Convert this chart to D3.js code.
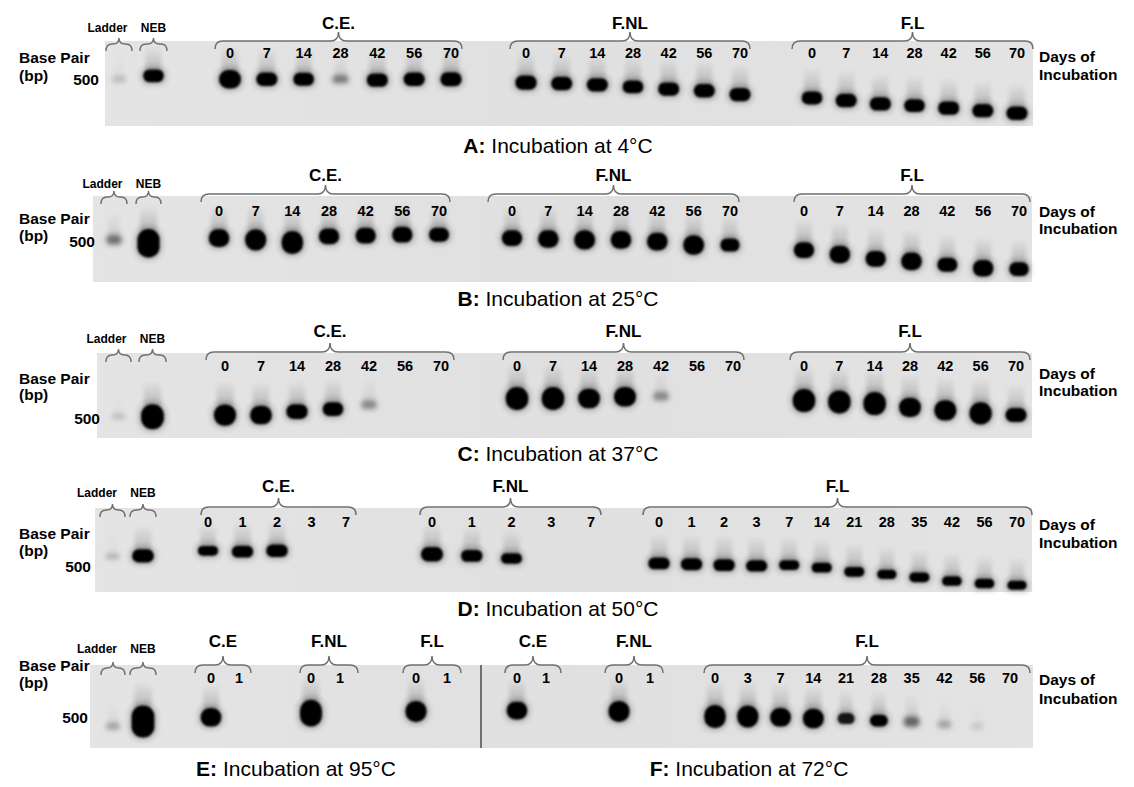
<!DOCTYPE html>
<html><head><meta charset="utf-8">
<script src="https://cdn.jsdelivr.net/npm/d3@7"></script>
<style>
html,body{margin:0;padding:0;background:#fff;}
svg{display:block;font-family:Arial,"Liberation Sans",sans-serif;}
</style></head><body>
<svg id="chart" width="1134" height="787"></svg>
<script>
// ---------------- DATA ----------------
const panelLetters = ["A:", "B:", "C:", "D:", "E:", "F:"];
const panelTitles = ["Incubation at 4°C", "Incubation at 25°C", "Incubation at 37°C",
                     "Incubation at 50°C", "Incubation at 95°C", "Incubation at 72°C"];
const ctrlNames = ["Ladder", "NEB"];
const groupNames = ["C.E.", "F.NL", "F.L"];
const groupNamesEF = ["C.E", "F.NL", "F.L"];
const yLabel = ["Base Pair", "(bp)"];
const yTick = "500";
const xLabel = ["Days of", "Incubation"];

const days7 = ["0", "7", "14", "28", "42", "56", "70"];
const daysD5 = ["0", "1", "2", "3", "7"];
const daysD12 = ["0", "1", "2", "3", "7", "14", "21", "28", "35", "42", "56", "70"];
const days2 = ["0", "1"];
const daysF10 = ["0", "3", "7", "14", "21", "28", "35", "42", "56", "70"];

// band migration (% of gel height from the wells) and relative DNA amount per lane
const migA_ctrl = [45, 41];        const amtA_ctrl = [0.12, 0.95];
const migA_CE  = [45, 45, 45, 45, 46, 45, 45];
const amtA_CE  = [1.3, 1.0, 0.95, 0.35, 1.0, 1.0, 1.05];
const migA_FNL = [49, 50, 51.5, 54, 56.5, 58.5, 63];
const amtA_FNL = [1.05, 1.0, 1.0, 0.95, 1.0, 1.0, 1.0];
const migA_FL  = [67, 70, 74, 76, 79, 82, 85];
const amtA_FL  = [0.95, 1.0, 1.0, 0.95, 1.0, 1.0, 1.0];

const migB_ctrl = [51, 55];        const amtB_ctrl = [0.4, 1.8];
const migB_CE  = [49, 51, 54, 47, 46, 45, 45];
const amtB_CE  = [1.2, 1.4, 1.5, 1.1, 1.1, 1.1, 1.0];
const migB_FNL = [49, 50, 51, 51, 53, 57, 57];
const amtB_FNL = [1.1, 1.2, 1.3, 1.2, 1.2, 1.3, 0.9];
const migB_FL  = [63, 68, 73, 76, 80, 84, 85];
const amtB_FL  = [1.1, 1.2, 1.1, 1.2, 1.0, 1.15, 0.95];

const migC_ctrl = [75, 75];        const amtC_ctrl = [0.1, 1.6];
const migC_CE  = [73, 73, 69, 66, 61, 0, 0];
const amtC_CE  = [1.4, 1.25, 1.05, 0.95, 0.3, 0, 0];
const migC_FNL = [53.5, 53.5, 53.5, 51.5, 51, 0, 0];
const amtC_FNL = [1.5, 1.5, 1.3, 1.3, 0.3, 0, 0];
const migC_FL  = [56, 57.5, 59.5, 64, 67.5, 71, 73];
const amtC_FL  = [1.5, 1.5, 1.5, 1.3, 1.35, 1.45, 1.0];

const migD_ctrl = [58, 57];        const amtD_ctrl = [0.15, 1.2];
const migD_CE  = [51, 52, 51, 0, 0];
const amtD_CE  = [0.9, 1.1, 1.15, 0, 0];
const migD_FNL = [55, 57, 60, 0, 0];
const amtD_FNL = [1.3, 1.1, 1.0, 0, 0];
const migD_FL  = [66, 67, 68, 69, 68, 71, 76, 79, 82.5, 87, 90, 92];
const amtD_FL  = [1.1, 1.1, 1.1, 1.05, 0.9, 0.9, 0.9, 0.8, 0.9, 0.85, 0.85, 0.8];

const migE_ctrl = [74, 68];        const amtE_ctrl = [0.2, 2.0];
const migE_CE  = [63, 0];          const amtE_CE  = [1.25, 0];
const migE_FNL = [58, 0];          const amtE_FNL = [1.7, 0];
const migE_FL  = [56, 0];          const amtE_FL  = [1.4, 0];
const migF_CE  = [55, 0];          const amtF_CE  = [1.2, 0];
const migF_FNL = [56, 0];          const amtF_FNL = [1.4, 0];
const migF_FL  = [62, 62, 63, 64.5, 64.5, 67, 68.5, 71.7, 74, 76];
const amtF_FL  = [1.5, 1.45, 1.25, 1.3, 0.65, 0.75, 0.45, 0.2, 0.08, 0];

// ---------------- LAYOUT ----------------
const layout = [
  { gel: [105, 1033, 41, 126], hF: 0.95, wF: 1.0, ladBr: [106, 132], nebBr: [140, 167],
    ctrl: [migA_ctrl, amtA_ctrl], labelY: 23, ctrlY: 28, braceY: 41, numY: 53,
    bpY: [57, 75, 79], tickX: 99, daysY: [56, 74], titles: [[0, 558, 145]], names: groupNames,
    groups: [[215, 462, 15, 11, days7, migA_CE, amtA_CE], [510, 750, 16, 10, days7, migA_FNL, amtA_FNL],
             [792, 1033, 20, 16, days7, migA_FL, amtA_FL]] },
  { gel: [93, 1032, 196, 282], hF: 1.0, wF: 0.95, ladBr: [101, 127], nebBr: [136, 161],
    ctrl: [migB_ctrl, amtB_ctrl], labelY: 175, ctrlY: 184, braceY: 194, numY: 211,
    bpY: [218, 235, 241], tickX: 95, daysY: [211, 228], titles: [[1, 558, 298]], names: groupNames,
    groups: [[201, 450, 18, 11, days7, migB_CE, amtB_CE], [488, 739, 24, 9, days7, migB_FNL, amtB_FNL],
             [794, 1030, 10, 11, days7, migB_FL, amtB_FL]] },
  { gel: [97, 1032, 353, 438], hF: 1.0, wF: 1.0, ladBr: [106, 131], nebBr: [139, 166],
    ctrl: [migC_ctrl, amtC_ctrl], labelY: 331, ctrlY: 339, braceY: 352, numY: 366,
    bpY: [378, 394, 418], tickX: 100, daysY: [373, 390], titles: [[2, 558, 453]], names: groupNames,
    groups: [[206, 454, 19, 13, days7, migC_CE, amtC_CE], [503, 744, 14, 11, days7, migC_FNL, amtC_FNL],
             [790, 1030, 14, 14, days7, migC_FL, amtC_FL]] },
  { gel: [95, 1032, 508, 592], hF: 0.75, wF: 1.0, ladBr: [100, 125], nebBr: [130, 156],
    ctrl: [migD_ctrl, amtD_ctrl], labelY: 486, ctrlY: 493, braceY: 507, numY: 522,
    bpY: [533, 550, 566], tickX: 91, daysY: [524, 542], titles: [[3, 558, 608]], names: groupNames,
    groups: [[201, 356, 7, 10, daysD5, migD_CE, amtD_CE], [420, 601, 12, 10, daysD5, migD_FNL, amtD_FNL],
             [643, 1032, 16, 15, daysD12, migD_FL, amtD_FL]] },
  { gel: [90, 1033, 665, 748], hF: 1.0, wF: 0.95, ladBr: [101, 125], nebBr: [130, 156],
    ctrl: [migE_ctrl, amtE_ctrl], labelY: 641, ctrlY: 649, braceY: 665, numY: 678,
    bpY: [665, 682, 717], tickX: 88, daysY: [679, 698], titles: [[4, 296, 768], [5, 749, 768]],
    names: groupNamesEF, divider: 481,
    groups: [[195, 251, 16, 12, days2, migE_CE, amtE_CE], [300, 358, 11, 18, days2, migE_FNL, amtE_FNL],
             [403, 461, 13, 14, days2, migE_FL, amtE_FL], [505, 561, 12, 15, days2, migF_CE, amtF_CE],
             [605, 663, 14, 13, days2, migF_FNL, amtF_FNL], [704, 1030, 11, 20, daysF10, migF_FL, amtF_FL]] }
];

// ---------------- DRAW ----------------
const svg = d3.select("#chart");
const defs = svg.append("defs");
[["b1", 1.0], ["b2", 2.2], ["b3", 3.2]].forEach(([id, s]) => {
  defs.append("filter").attr("id", id).attr("x", "-60%").attr("y", "-60%").attr("width", "220%").attr("height", "220%")
    .append("feGaussianBlur").attr("stdDeviation", s);
});
const sg = defs.append("linearGradient").attr("id", "smear").attr("x1", 0).attr("x2", 0).attr("y1", 0).attr("y2", 1);
sg.append("stop").attr("offset", "0%").attr("stop-color", "#000").attr("stop-opacity", 0);
sg.append("stop").attr("offset", "100%").attr("stop-color", "#000").attr("stop-opacity", 0.28);

const bandW = d3.scaleLinear().domain([0, 1, 2]).range([12, 21, 24]).clamp(true);
const bandH = d3.scaleLinear().domain([0, 1, 2]).range([5, 14, 32]).clamp(true);
const dark = d3.scaleLinear().domain([0, 0.75]).range([0, 1]).clamp(true);

function bracePath(x0, x1, y, up, down, r) {
  const m = (x0 + x1) / 2;
  return `M${x0},${y + down} Q${x0},${y} ${x0 + r},${y} L${m - r},${y} Q${m},${y} ${m},${y - up}` +
         ` Q${m},${y} ${m + r},${y} L${x1 - r},${y} Q${x1},${y} ${x1},${y + down}`;
}

function drawBand(g, cx, cy, a, P) {
  if (!a) return;
  const w = bandW(a) * P.wF, h = bandH(a) * P.hF, d = dark(a);
  // smear above the band
  g.append("rect").attr("x", cx - w * 0.38).attr("width", w * 0.76)
    .attr("y", cy - h / 2 - 24).attr("height", 26)
    .attr("fill", "url(#smear)").attr("opacity", d * 0.7).attr("filter", "url(#b2)");
  // halo
  g.append("rect").attr("x", cx - w / 2 - 1.5).attr("y", cy - h / 2 - 1.5)
    .attr("width", w + 3).attr("height", h + 3).attr("rx", Math.min(w, h) / 2)
    .attr("fill", "#000").attr("opacity", d * 0.3).attr("filter", "url(#b3)");
  // core
  g.append("rect").attr("x", cx - w / 2).attr("y", cy - h / 2)
    .attr("width", w).attr("height", h).attr("rx", Math.min(w * 0.48, h * 0.48))
    .attr("fill", "#030303").attr("opacity", a < 0.5 ? d * 0.75 : d)
    .attr("filter", a < 0.5 ? "url(#b2)" : "url(#b1)");
}

layout.forEach(P => {
  const [gx0, gx1, gy0, gy1] = P.gel;
  const g = svg.append("g");
  const y = d3.scaleLinear().domain([0, 100]).range([gy0, gy1]);

  // gel background
  const gg = defs.append("linearGradient").attr("id", "gel" + gy0).attr("x1", 0).attr("x2", 1);
  gg.append("stop").attr("offset", "0%").attr("stop-color", "#e4e4e4");
  gg.append("stop").attr("offset", "50%").attr("stop-color", "#e0e0e0");
  gg.append("stop").attr("offset", "100%").attr("stop-color", "#e3e3e3");
  g.append("rect").attr("x", gx0).attr("y", gy0).attr("width", gx1 - gx0).attr("height", gy1 - gy0)
    .attr("fill", `url(#gel${gy0})`);
  if (P.divider) {
    g.append("line").attr("x1", P.divider).attr("x2", P.divider).attr("y1", gy0).attr("y2", gy1)
      .attr("stroke", "#555").attr("stroke-width", 1.6);
  }

  // control lanes (Ladder, NEB)
  const ctrlX = [(P.ladBr[0] + P.ladBr[1]) / 2, (P.nebBr[0] + P.nebBr[1]) / 2];
  [P.ladBr, P.nebBr].forEach(br => {
    g.append("path").attr("d", bracePath(br[0], br[1], P.braceY + 3, 6, 7, 6))
      .attr("fill", "none").attr("stroke", "#6f6f6f").attr("stroke-width", 1.4);
  });
  ctrlX.forEach((cx, i) => drawBand(g, cx, y(P.ctrl[0][i]), P.ctrl[1][i], P));
  g.append("text").attr("x", ctrlX[1]).attr("y", P.ctrlY).attr("text-anchor", "middle")
    .attr("dominant-baseline", "central").attr("font-size", 12).attr("font-weight", "bold").text(ctrlNames[1]);
  g.append("text").attr("x", ctrlX[1] - 26).attr("y", P.ctrlY).attr("text-anchor", "end")
    .attr("dominant-baseline", "central").attr("font-size", 12).attr("font-weight", "bold").text(ctrlNames[0]);

  // sample groups
  P.groups.forEach((G, gi) => {
    const [bx0, bx1, pl, pr, days, mig, amt] = G;
    const x = d3.scalePoint().domain(days).range([bx0 + pl, bx1 - pr]);
    g.append("path").attr("d", bracePath(bx0, bx1, P.braceY, 9, 8, 8))
      .attr("fill", "none").attr("stroke", "#6f6f6f").attr("stroke-width", 1.5);
    g.append("text").attr("x", (bx0 + bx1) / 2).attr("y", P.labelY).attr("text-anchor", "middle")
      .attr("dominant-baseline", "central").attr("font-size", 17).attr("font-weight", "bold")
      .text(P.names[gi % 3]);
    g.selectAll(null).data(days).enter().append("text")
      .attr("x", d => x(d)).attr("y", P.numY).attr("text-anchor", "middle")
      .attr("dominant-baseline", "central").attr("font-size", 14.5).attr("font-weight", "bold").text(d => d);
    days.forEach((d, i) => drawBand(g, x(d), y(mig[i]), amt[i], P));
  });

  // y label
  g.append("text").attr("x", 19).attr("y", P.bpY[0]).attr("dominant-baseline", "central")
    .attr("font-size", 15.5).attr("font-weight", "bold").text(yLabel[0]);
  g.append("text").attr("x", 19).attr("y", P.bpY[1]).attr("dominant-baseline", "central")
    .attr("font-size", 15.5).attr("font-weight", "bold").text(yLabel[1]);
  g.append("text").attr("x", P.tickX).attr("y", P.bpY[2]).attr("text-anchor", "end").attr("dominant-baseline", "central")
    .attr("font-size", 15.5).attr("font-weight", "bold").text(yTick);
  // x label
  xLabel.forEach((t, i) => g.append("text").attr("x", 1039).attr("y", P.daysY[i]).attr("dominant-baseline", "central")
    .attr("font-size", 15.5).attr("font-weight", "bold").text(t));
  // titles
  P.titles.forEach(([ti, tx, ty]) => {
    const t = g.append("text").attr("x", tx).attr("y", ty).attr("text-anchor", "middle")
      .attr("dominant-baseline", "central").attr("font-size", 21);
    t.append("tspan").attr("font-weight", "bold").text(panelLetters[ti] + " ");
    t.append("tspan").text(panelTitles[ti]);
  });
});
</script>
</body></html>
